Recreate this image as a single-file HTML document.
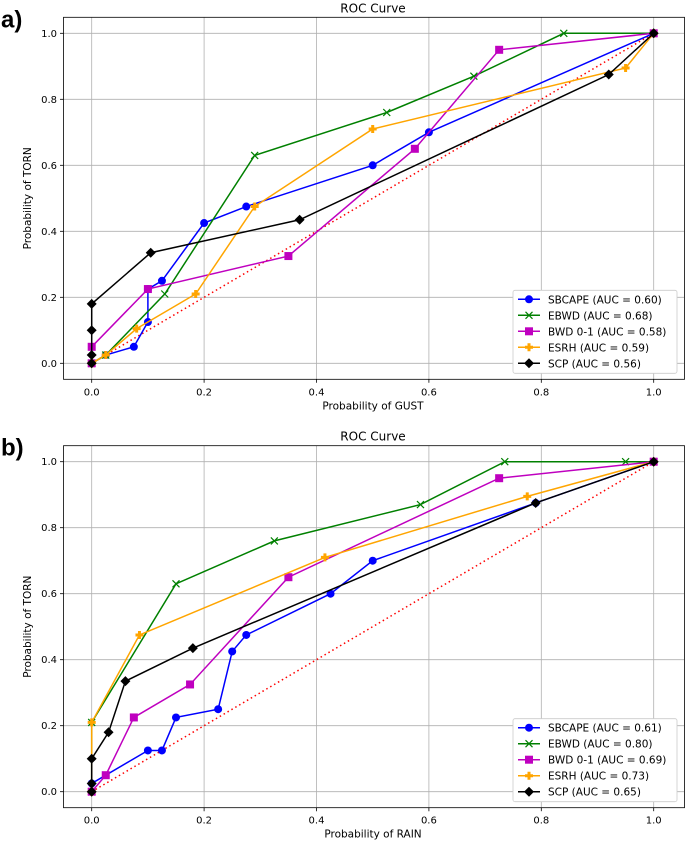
<!DOCTYPE html>
<html><head><meta charset="utf-8"><style>
body{margin:0;background:#fff;}
svg{display:block;font-family:"DejaVu Sans","Liberation Sans",sans-serif;}
</style></head><body>
<svg id="c" width="685" height="843" viewBox="0 0 685 843" xmlns="http://www.w3.org/2000/svg"></svg>
<script>
const names=["SBCAPE","EBWD","BWD 0-1","ESRH","SCP"];
const colors=["#0000ff","#008000","#bf00bf","#ffa500","#000000"];
const markers=["circle","x","square","plus","diamond"];
const aucA=["0.60","0.68","0.58","0.59","0.56"];
const aucB=["0.61","0.80","0.69","0.73","0.65"];
const ticks=[0,0.2,0.4,0.6,0.8,1.0];
// panel a: x = P(GUST), y = P(TORN)
const aSBx=[0,0.025,0.075,0.1,0.1,0.125,0.2,0.275,0.5,0.6,1];
const aSBy=[0,0.025,0.05,0.125,0.225,0.25,0.425,0.475,0.6,0.7,1];
const aEBx=[0,0.025,0.13,0.29,0.525,0.68,0.84,1];
const aEBy=[0,0.025,0.21,0.63,0.76,0.87,1,1];
const aBWx=[0,0,0.1,0.35,0.575,0.725,1];
const aBWy=[0,0.05,0.225,0.325,0.65,0.95,1];
const aESx=[0,0.025,0.08,0.185,0.29,0.5,0.95,1];
const aESy=[0,0.025,0.105,0.21,0.475,0.71,0.895,1];
const aSCx=[0,0,0,0,0.105,0.37,0.92,1];
const aSCy=[0,0.025,0.1,0.18,0.335,0.435,0.875,1];
// panel b: x = P(RAIN)
const bSBx=[0,0,0.1,0.125,0.15,0.225,0.25,0.275,0.425,0.5,0.79,1];
const bSBy=[0,0.025,0.125,0.125,0.225,0.25,0.425,0.475,0.6,0.7,0.875,1];
const bEBx=[0,0,0.15,0.325,0.585,0.735,0.95,1];
const bEBy=[0,0.21,0.63,0.76,0.87,1,1,1];
const bBWx=[0,0.025,0.075,0.175,0.35,0.725,1];
const bBWy=[0,0.05,0.225,0.325,0.65,0.95,1];
const bESx=[0,0,0.085,0.415,0.775,1];
const bESy=[0,0.21,0.475,0.71,0.895,1];
const bSCx=[0,0,0,0.03,0.06,0.18,0.79,1];
const bSCy=[0,0.025,0.1,0.18,0.335,0.435,0.875,1];

const NS="http://www.w3.org/2000/svg";
const svg=document.getElementById('c');
function el(t,a,p){const e=document.createElementNS(NS,t);for(const k in a)e.setAttribute(k,a[k]);(p||svg).appendChild(e);return e;}

function marker(g,type,x,y,c){
  let m;
  if(type==="circle")m=el('circle',{cx:x,cy:y,r:4,fill:c},g);
  else if(type==="square")m=el('rect',{x:x-4,y:y-4,width:8,height:8,fill:c},g);
  else if(type==="diamond")m=el('polygon',{points:`${x},${y-5} ${x+5},${y} ${x},${y+5} ${x-5},${y}`,fill:c},g);
  else if(type==="x")m=el('path',{d:`M${x-3.5},${y-3.5}L${x+3.5},${y+3.5}M${x-3.5},${y+3.5}L${x+3.5},${y-3.5}`,stroke:c,'stroke-width':1.2,fill:'none'},g);
  else m=el('path',{d:`M${x-4},${y}L${x+4},${y}M${x},${y-4}L${x},${y+4}`,stroke:c,'stroke-width':3,fill:'none'},g);
  
  
}

function panel(P){
  const X0=91.7,XS=562,Y0=P.y0,YS=330;
  const sx=v=>X0+v*XS, sy=v=>Y0-v*YS;
  const g=el('g',{});
  
  
  const bg=el('rect',{x:63.5,y:P.top,width:620,height:P.bot-P.top,fill:'#fff'},g);
  for(const t of ticks){
    el('line',{x1:sx(t),x2:sx(t),y1:P.top,y2:P.bot,stroke:'#b0b0b0','stroke-width':0.8},g);
    el('line',{x1:63.5,x2:684,y1:sy(t),y2:sy(t),stroke:'#b0b0b0','stroke-width':0.8},g);
    el('line',{x1:sx(t),x2:sx(t),y1:P.bot,y2:P.bot+3.5,stroke:'#000','stroke-width':0.8},g);
    el('line',{x1:63.5,x2:60,y1:sy(t),y2:sy(t),stroke:'#000','stroke-width':0.8},g);
    const tx=el('text',{x:sx(t),y:P.bot+16,'font-size':10,'text-anchor':'middle'},g);tx.textContent=t.toFixed(1);
    
    const ty=el('text',{x:57,y:sy(t)+3.5,'font-size':10,'text-anchor':'end'},g);ty.textContent=t.toFixed(1);
    
  }
  el('line',{x1:sx(0),y1:sy(0),x2:sx(1),y2:sy(1),stroke:'#ff0000','stroke-width':1.5,'stroke-dasharray':'1.5,3'},g);
  P.series.forEach((s,i)=>{
    const sg=el('g',{},g);
    
    
    el('polyline',{points:s[0].map((v,j)=>sx(v)+','+sy(s[1][j])).join(' '),fill:'none',stroke:colors[i],'stroke-width':1.5},sg);
    s[0].forEach((v,j)=>marker(sg,markers[i],sx(v),sy(s[1][j]),colors[i]));
  });
  el('rect',{x:63.5,y:P.top,width:621,height:P.bot-P.top,fill:'none',stroke:'#000','stroke-width':0.8},g);
  const ti=el('text',{x:373,y:P.top-5,'font-size':12,'text-anchor':'middle'},g);ti.textContent='ROC Curve';
  
  const xl=el('text',{x:373,y:P.bot+30,'font-size':10.5,'text-anchor':'middle'},g);xl.textContent=P.xlabel;
  
  const yl=el('text',{x:0,y:0,'font-size':10.5,'text-anchor':'middle',transform:`translate(31,${(P.top+P.bot)/2}) rotate(-90)`},g);yl.textContent='Probability of TORN';
  
  const pl=el('text',{x:1,y:P.top+10,'font-size':24,'font-weight':'bold','font-family':'Liberation Sans, sans-serif'},g);pl.textContent=P.label;
  
  // legend
  const lg=el('g',{},g);
  
  const ly=P.bot-89;
  el('rect',{x:513,y:ly,width:164,height:83,rx:2,fill:'#fff',stroke:'#ccc','stroke-width':0.8},lg);
  names.forEach((n,i)=>{
    const yy=ly+9+i*16;
    const eg=el('g',{},lg);
    
    el('line',{x1:518,x2:540,y1:yy,y2:yy,stroke:colors[i],'stroke-width':1.5},eg);
    marker(eg,markers[i],529,yy,colors[i]);
    const t=el('text',{x:548,y:yy+4,'font-size':10.5},eg);t.textContent=`${n} (AUC = ${P.auc[i]})`;
  });
}
panel({id:'a',label:'a)',y0:363.3,top:17.3,bot:379.3,xlabel:'Probability of GUST',auc:aucA,
  series:[[aSBx,aSBy],[aEBx,aEBy],[aBWx,aBWy],[aESx,aESy],[aSCx,aSCy]]});
panel({id:'b',label:'b)',y0:791.7,top:445.7,bot:807.7,xlabel:'Probability of RAIN',auc:aucB,
  series:[[bSBx,bSBy],[bEBx,bEBy],[bBWx,bBWy],[bESx,bESy],[bSCx,bSCy]]});
</script>
</body></html>
